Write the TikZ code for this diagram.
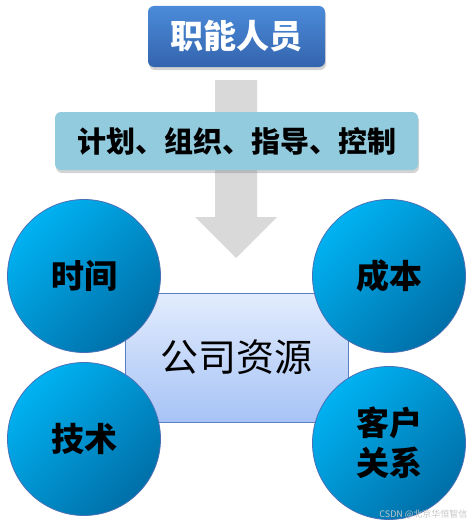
\documentclass[tikz,border=0pt]{standalone}
\usepackage{fontspec}
\setmainfont{Noto Sans CJK SC}
\usetikzlibrary{shadows}
\definecolor{staffup}{HTML}{4B8BD9}
\definecolor{staffdown}{HTML}{3464AE}
\definecolor{dutyblue}{HTML}{92CBDD}
\definecolor{arrowgray}{HTML}{D9D9D9}
\definecolor{resup}{HTML}{E2ECFD}
\definecolor{resdown}{HTML}{A7C3F6}
\definecolor{resline}{HTML}{5B80C2}
\definecolor{balllight}{HTML}{00B2F2}
\definecolor{balldark}{HTML}{006FA8}
\definecolor{ballline}{HTML}{4A70B5}
\begin{document}
\begin{tikzpicture}[x=1pt, y=-1pt,
  ball/.style={circle, draw=ballline, line width=.8pt, minimum size=153pt, inner sep=0pt,
    top color=balllight, bottom color=balldark, shading angle=45, align=center,
    font=\fontsize{33}{40}\selectfont\bfseries},
  shade box/.style={rounded corners=6pt, drop shadow={opacity=.35, shadow xshift=1pt, shadow yshift=-3pt}}]
\useasboundingbox (0,0) rectangle (473,527);

% big gray arrow
\fill[arrowgray] (215,80) -- (257,80) -- (257,217) -- (277,217) -- (236,258) -- (195,217) -- (215,217) -- cycle;

\node[shade box, top color=staffup, bottom color=staffdown, minimum width=177pt, minimum height=61pt,
  text=white, font=\fontsize{33}{38}\selectfont\bfseries] (staff) at (236.5,36.5) {职能人员};
\node[shade box, fill=dutyblue, minimum width=363pt, minimum height=58pt,
  font=\fontsize{29}{34}\selectfont\bfseries] (duty) at (236.5,141) {计划、组织、指导、控制};

\node[draw=resline, line width=.8pt, top color=resup, bottom color=resdown, minimum width=223pt, minimum height=129pt,
  font=\fontsize{38}{44}\selectfont] (res) at (236.5,357.5) {公司资源};

\foreach \nm/\x/\y/\txt in {time/84/276/时间, cost/389/276/成本, tech/84/439/技术, client/389/443/{客户\\关系}}
{
    \node[ball] (\nm) at (\x,\y) {\txt};
}

\node[anchor=east, text=gray!45, font=\fontsize{9}{10}\selectfont] (mark) at (471,514) {CSDN @北京华恒智信};
\end{tikzpicture}
\end{document}
